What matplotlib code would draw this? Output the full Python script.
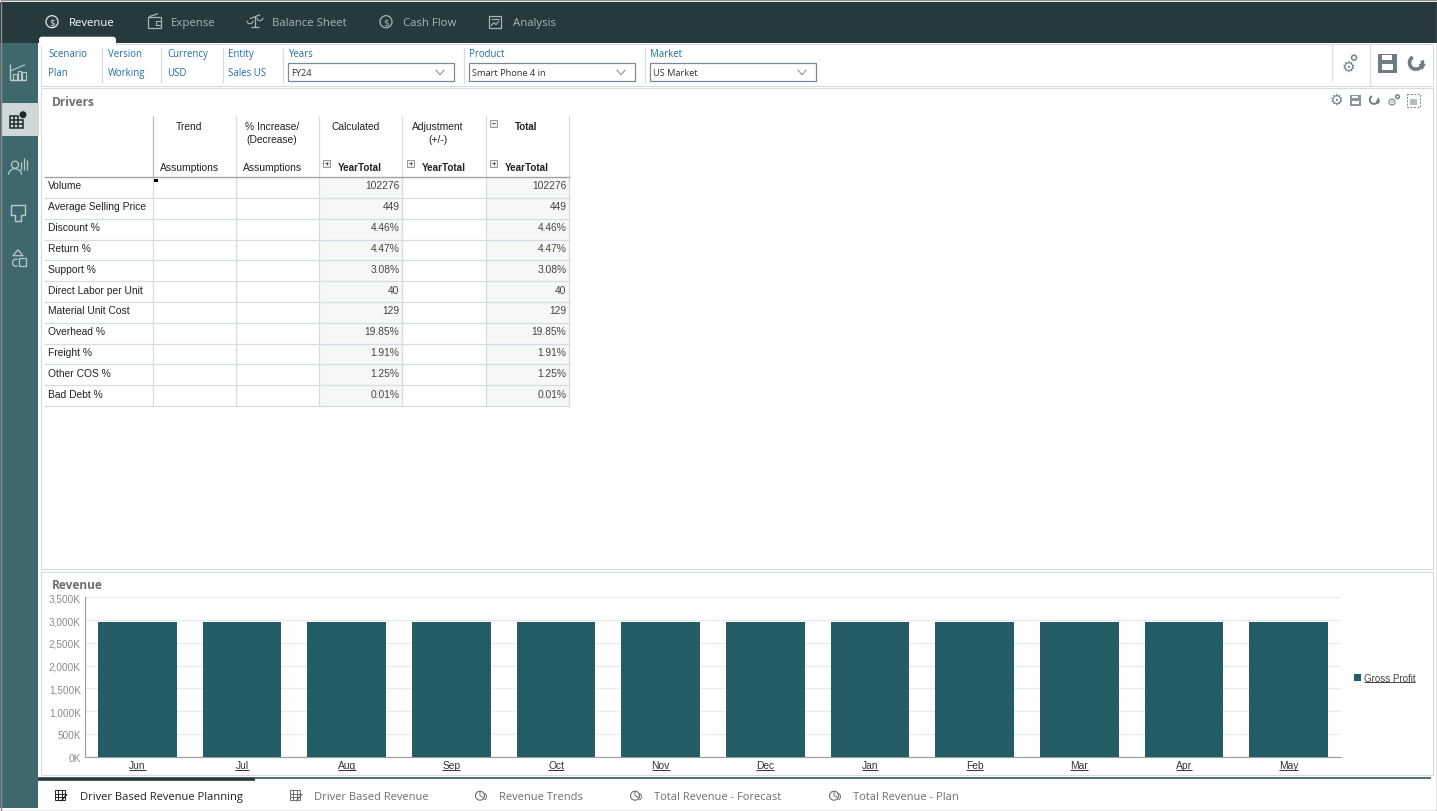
import matplotlib
matplotlib.use("Agg")
import matplotlib.pyplot as plt
from matplotlib.patches import Rectangle, Circle, FancyBboxPatch, Polygon, Arc

W, H = 1437, 812

months = ["Jun", "Jul", "Aug", "Sep", "Oct", "Nov", "Dec", "Jan", "Feb", "Mar", "Apr", "May"]
gross_profit = [2965, 2965, 2965, 2965, 2965, 2965, 2965, 2965, 2965, 2965, 2965, 2965]
y_ticks = [0, 500, 1000, 1500, 2000, 2500, 3000, 3500]
y_tick_labels = ["0K", "500K", "1,000K", "1,500K", "2,000K", "2,500K", "3,000K", "3,500K"]

row_labels = ["Volume", "Average Selling Price", "Discount %", "Return %", "Support %",
              "Direct Labor per Unit", "Material Unit Cost", "Overhead %", "Freight %",
              "Other COS %", "Bad Debt %"]
calculated = ["102276", "449", "4.46%", "4.47%", "3.08%", "40", "129", "19.85%", "1.91%", "1.25%", "0.01%"]
total = ["102276", "449", "4.46%", "4.47%", "3.08%", "40", "129", "19.85%", "1.91%", "1.25%", "0.01%"]

top_tabs = ["Revenue", "Expense", "Balance Sheet", "Cash Flow", "Analysis"]
bottom_tabs = ["Driver Based Revenue Planning", "Driver Based Revenue", "Revenue Trends",
               "Total Revenue - Forecast", "Total Revenue - Plan"]

DARK = "#25393f"
SIDE = "#3e686b"
TEAL = "#255d66"
BLUE = "#1f6fa8"
UI_FONT = ["Open Sans", "DejaVu Sans"]
TABLE_FONT = ["Liberation Sans", "DejaVu Sans"]
TSIZE = 7.4

fig = plt.figure(figsize=(W / 100, H / 100), dpi=100, facecolor="white")

# whole window is drawn in pixel coordinates
ui = fig.add_axes([0, 0, 1, 1])
ui.set_xlim(0, W)
ui.set_ylim(H - 0.7, -0.7)
ui.axis("off")


def rect(x, y, w, h, fc="none", ec="none", lw=0.8, z=1):
    ui.add_patch(Rectangle((x, y), w, h, facecolor=fc, edgecolor=ec, linewidth=lw, zorder=z))


def hline(x0, x1, y, c="#d5dde3", lw=0.9, z=2):
    ui.plot([x0, x1], [y, y], color=c, lw=lw, zorder=z, solid_capstyle="butt")


def vline(x, y0, y1, c="#d5dde3", lw=0.9, z=2):
    ui.plot([x, x], [y0, y1], color=c, lw=lw, zorder=z, solid_capstyle="butt")


def path(xs, ys, c, lw=0.9, z=5):
    ui.plot(xs, ys, color=c, lw=lw, zorder=z, solid_capstyle="butt")


def txt(x, y, s, size=TSIZE, c="#222222", ha="left", weight="normal", font=TABLE_FONT):
    ui.text(x, y, s, fontsize=size, color=c, ha=ha, va="center", fontweight=weight,
            family=font, zorder=5)


def gear(x, y, size=10, c="#77858a"):
    ui.text(x, y, "\u2699", fontsize=size, color=c, ha="center", va="center",
            family="DejaVu Sans", zorder=5, fontweight="bold")


def ring(x, y, r, c="#77858a"):
    ui.add_patch(Circle((x, y), r, facecolor="none", edgecolor=c, lw=1.1, zorder=5))


def plus_box(x, y, sign="+"):
    rect(x, y, 7, 7, fc="#eeeeee", ec="#8a8a8a", lw=0.6, z=4)
    hline(x + 2, x + 5, y + 3.5, c="#444444", lw=0.7, z=5)
    if sign == "+":
        vline(x + 3.5, y + 2, y + 5, c="#444444", lw=0.7, z=5)


def floppy(x, y, s, c="#6f7d82"):
    rect(x, y, s, s, fc=c, z=4)
    rect(x + s * 0.22, y + s * 0.08, s * 0.5, s * 0.25, fc="white", z=5)
    rect(x + s * 0.2, y + s * 0.55, s * 0.6, s * 0.33, fc="white", z=5)


def refresh(x, y, r, c="#6f7d82", lw=2.0):
    ui.add_patch(Arc((x, y), 2 * r, 2 * r, theta1=-20, theta2=240, color=c, lw=lw, zorder=5))
    ui.add_patch(Polygon([(x + r * 0.4, y + r * 0.2), (x + r * 1.5, y + r * 0.2),
                          (x + r * 1.0, y + r * 1.1)], facecolor=c, zorder=5))


def grid_icon(x, y, s, c, lw=0.7):
    rect(x, y, s, s, ec=c, lw=lw, z=4)
    for k in [1, 2]:
        hline(x, x + s, y + s * k / 3, c=c, lw=lw, z=4)
        vline(x + s * k / 3, y, y + s, c=c, lw=lw, z=4)
    path([x + s * 0.6, x + s + 2], [y + s + 1, y + s * 0.4], c, lw=1.0)


def pie_icon(x, y, c):
    ui.add_patch(Circle((x - 1, y), 4.5, facecolor="none", edgecolor=c, lw=0.8, zorder=4))
    path([x - 1, x - 1, x + 3], [y - 4.5, y, y + 2], c, lw=0.7)
    ui.add_patch(Arc((x + 3, y + 1), 5, 6, theta1=-90, theta2=90, color=c, lw=0.7, zorder=4))


def dollar_icon(x, y, c):
    ui.add_patch(Arc((x, y), 12, 12, theta1=-60, theta2=300, color=c, lw=0.9, zorder=4))
    ui.text(x, y, "$", fontsize=6.5, color=c, ha="center", va="center", family="DejaVu Sans", zorder=5)


# window border, top bar, sidebar
rect(0, 43, 38, 765, fc=SIDE)
rect(0, 2, W, 41, fc=DARK)
rect(0.5, 0.5, W - 1, H - 1, ec="#8c8c8c", lw=1, z=8)

# top tabs
ui.add_patch(FancyBboxPatch((39, 37), 77, 9, boxstyle="round,pad=0,rounding_size=3",
                            facecolor="white", edgecolor="none", zorder=2))
tab_x = [69, 171, 272, 403, 513]
for i in range(len(top_tabs)):
    col = "white" if i == 0 else "#a9b6b9"
    txt(tab_x[i], 22.6, top_tabs[i], size=8.2, c=col, font=UI_FONT)
IC = "#a9b6b9"
dollar_icon(52, 22, "#e6eaeb")
dollar_icon(386, 22, IC)
# wallet
rect(148, 17, 13, 11, ec=IC, lw=0.9, z=4)
path([149, 158], [17, 14], IC)
rect(156, 21, 5, 4, fc=DARK, ec=IC, lw=0.8, z=5)
# scales
path([250, 260], [19, 15], IC)
vline(255, 16, 27, c=IC, z=4)
hline(251, 259, 27, c=IC, z=4)
ui.add_patch(Arc((250, 21), 6, 6, theta1=0, theta2=180, color=IC, lw=0.8, zorder=4))
ui.add_patch(Arc((260, 18), 6, 6, theta1=0, theta2=180, color=IC, lw=0.8, zorder=4))
# analysis sheet
rect(489, 16, 12, 12, ec=IC, lw=0.9, z=4)
hline(491, 499, 19, c=IC, lw=0.8)
path([491, 494, 496, 499], [26, 23, 25, 21], IC, lw=0.8)

# sidebar icons
SI = "#b9cbcc"
rect(1, 103, 38, 33, fc="#cfd9da", z=2)
grid_x, grid_y = 9.5, 116
rect(grid_x, grid_y, 13, 12, fc="none", ec="#1c2a2e", lw=1.1, z=3)
for k in [1, 2]:
    hline(grid_x, grid_x + 13, grid_y + 4 * k, c="#1c2a2e", lw=1.1, z=3)
    vline(grid_x + 13 * k / 3, grid_y, grid_y + 12, c="#1c2a2e", lw=1.1, z=3)
ui.add_patch(Circle((23, 115), 4, facecolor="#1c2a2e", edgecolor="#cfd9da", lw=0.7, zorder=4))
# charts
path([10, 10, 26], [64, 80, 80], SI, lw=1.0)
path([11, 25], [71, 65], SI, lw=0.8)
for bx, top in [(13, 74), (17.5, 71), (22, 72)]:
    rect(bx, top, 3.5, 80 - top, ec=SI, lw=0.8, z=3)
# person + bars
ui.add_patch(Circle((15, 165), 3.5, facecolor="none", edgecolor=SI, lw=0.9, zorder=4))
ui.add_patch(Arc((15, 175), 13, 12, theta1=180, theta2=360, color=SI, lw=0.9, zorder=4))
for bx, top in [(21, 162), (24, 158), (27, 160)]:
    vline(bx, top, 170, c=SI, lw=0.9, z=4)
# funnel
path([11, 25, 25, 21, 21, 15, 15, 11, 11], [205, 205, 215, 215, 221, 221, 215, 215, 205], SI, lw=1.0)
# shapes
path([18, 13, 23, 18], [250, 256, 256, 250], SI, lw=0.9)
rect(19, 258, 7, 8, ec=SI, lw=0.9, z=3)
ui.add_patch(Arc((16, 263), 7, 7, theta1=60, theta2=300, color=SI, lw=0.9, zorder=4))

# filter strip
rect(40.5, 44, 1392, 42, fc="white", ec="#d5dde3", z=1)
filter_x = [48, 108, 167, 228]
filter_top = ["Scenario", "Version", "Currency", "Entity"]
filter_low = ["Plan", "Working", "USD", "Sales US"]
for i in range(4):
    txt(filter_x[i], 53.5, filter_top[i], size=6.9, c=BLUE, font=UI_FONT)
    txt(filter_x[i], 72.5, filter_low[i], size=6.9, c=BLUE, font=UI_FONT)
for x in [102, 161, 223, 283, 464, 645]:
    vline(x, 47, 83)
drop_x = [288, 469, 650]
drop_w = [166, 166, 166]
drop_title = ["Years", "Product", "Market"]
drop_value = ["FY24", "Smart Phone 4 in", "US Market"]
for i in range(3):
    txt(drop_x[i], 53.5, drop_title[i], size=6.9, c=BLUE, font=UI_FONT)
    rect(drop_x[i], 63.5, drop_w[i] - 0.5, 17.5, fc="white", ec="#7b8a90", lw=0.9, z=3)
    txt(drop_x[i] + 3, 72.5, drop_value[i], size=6.7, c="#333333", font=UI_FONT)
    cx = drop_x[i] + 152
    ui.plot([cx - 4, cx, cx + 4], [70.5, 75, 70.5], color="#8a979b", lw=0.8, zorder=5)
vline(1332, 44, 81)
vline(1370, 44, 86)
gear(1348, 67, size=11)
ring(1354, 58, 2.5)
floppy(1378, 54, 19)
refresh(1416, 63, 6.5, lw=2.6)

# drivers panel
rect(41, 88, 1392, 481, fc="white", ec="#d5dde3", z=1)
txt(52, 101.5, "Drivers", size=8.6, c="#6b6f73", weight="bold", font=UI_FONT)
gear(1336, 100, size=11)
floppy(1350, 95, 11, c="#8a979b")
refresh(1374, 100, 4.2, lw=1.4)
gear(1392, 102, size=8)
ring(1397.5, 97, 1.8)
ui.add_patch(Rectangle((1407, 94), 13, 13, facecolor="none", edgecolor="#77858a", lw=0.7,
                       ls=(0, (2, 1.5)), zorder=4))
rect(1410, 99, 7, 6, fc="#b5bdc0", z=4)

# table
col_x = [153.2, 236.2, 319.2, 402.2, 486.2, 569.2]
row_y = [185.2, 206.2, 227.2, 248.2, 269.2, 290.2, 310.2, 331.2, 352.2, 373.2, 394.2]
row_h = 20.8
table_top = 177.4
rect(col_x[2], table_top, 83, row_h * 11, fc="#f6f7f7", z=1.5)
rect(col_x[4], table_top, 83, row_h * 11, fc="#f6f7f7", z=1.5)
vline(col_x[0], 116, 178, c="#b8bcc0")
for x in col_x[1:]:
    vline(x, 116, table_top + row_h * 11)
vline(col_x[0], 178, table_top + row_h * 11, c="#d5dde3")
hline(44, 570, table_top, c="#a0a4a8", lw=1)
for r in range(len(row_labels)):
    yb = table_top + row_h * (r + 1)
    hline(44, 570, yb)
    txt(48, row_y[r], row_labels[r])
    txt(399.5, row_y[r], calculated[r], c="#444444", ha="right")
    txt(566.5, row_y[r], total[r], c="#444444", ha="right")
rect(154, 179, 3.5, 3.5, fc="black", z=6)

txt(189, 126.2, "Trend", ha="center")
txt(272, 126.2, "% Increase/", ha="center")
txt(272, 139.2, "(Decrease)", ha="center")
txt(355.5, 126.2, "Calculated", ha="center")
txt(438, 126.2, "Adjustment", ha="center")
txt(438, 139.2, "(+/-)", ha="center")
txt(526, 126.2, "Total", size=7.0, ha="center", weight="bold")
plus_box(490, 120, sign="-")
txt(189.5, 167.2, "Assumptions", ha="center")
txt(272.5, 167.2, "Assumptions", ha="center")
for x in [323, 407, 490]:
    plus_box(x, 160)
    txt(x + 14.5, 167.2, "YearTotal", size=7.1, weight="bold")

# revenue panel
rect(41, 572, 1392, 203, fc="white", ec="#d5dde3", z=1)
txt(52, 584.5, "Revenue", size=8.6, c="#6b6f73", weight="bold", font=UI_FONT)

# bar chart
ax = fig.add_axes([85 / W, 1 - 757.8 / H, (1341 - 85) / W, (757.8 - 598.3) / H])
ax.patch.set_alpha(0)
ax.bar(range(len(months)), gross_profit, width=0.75, color=TEAL, edgecolor="none", zorder=3)
ax.set_xlim(-0.5, len(months) - 0.5)
ax.set_ylim(0, 3500)
ax.set_yticks(y_ticks)
ax.set_yticklabels(y_tick_labels, fontsize=7.2, color="#8a8a8a", family=TABLE_FONT)
ax.set_xticks(range(len(months)))
ax.set_xticklabels(months, fontsize=TSIZE, color="#333333", family=TABLE_FONT)
ax.tick_params(axis="both", length=0)
ax.tick_params(axis="x", pad=2)
ax.tick_params(axis="y", pad=3)
ax.grid(axis="y", color="#e8eaee", lw=0.9, zorder=0)
ax.set_axisbelow(True)
ax.spines["top"].set_visible(False)
ax.spines["right"].set_visible(False)
ax.spines["left"].set_color("#9a9a9a")
ax.spines["bottom"].set_color("#9a9a9a")

# month labels are underlined links
fig.canvas.draw()
for lab in ax.get_xticklabels():
    bb = lab.get_window_extent()
    hline(bb.x0, bb.x1, H - bb.y0 - 0.2, c="#333333", lw=0.7, z=6)

# legend
rect(1353.5, 674.5, 7, 7, fc=TEAL, z=4)
txt(1364, 678, "Gross Profit", size=7.0, c="#444444")
hline(1364, 1415, 682.5, c="#444444", lw=0.7)

# bottom tabs
hline(255, 1431, 778.5, c="#2f5a5e", lw=1.2)
hline(38, 255, 779.5, c=DARK, lw=2.6, z=3)
bottom_x = [80, 314, 499, 654, 853]
bottom_icon = [61, 296, 481, 636, 835]
for i in range(len(bottom_tabs)):
    col = "#222222" if i == 0 else "#6b6f73"
    txt(bottom_x[i], 796.6, bottom_tabs[i], size=8.0, c=col, font=UI_FONT)
    if i < 2:
        grid_icon(bottom_icon[i] - 6, 790.5, 10, col)
    else:
        pie_icon(bottom_icon[i], 796, col)

fig.savefig("out.png", dpi=100, facecolor="white")
